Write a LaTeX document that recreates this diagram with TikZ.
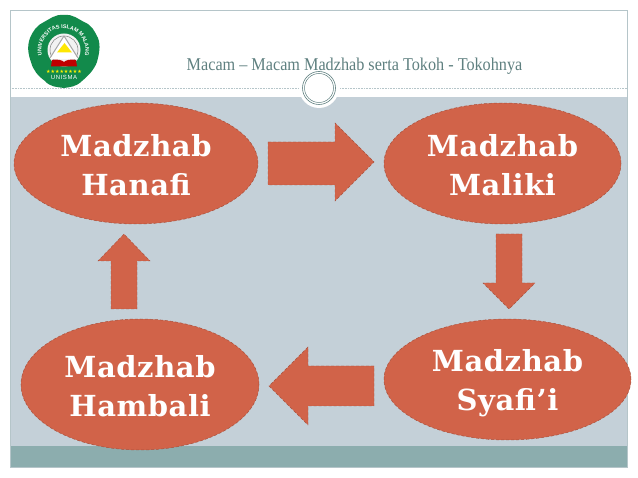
\documentclass[tikz,border=0pt]{standalone}
\usepackage{fontspec}
\usetikzlibrary{shapes.geometric,decorations.text}
\setmainfont{DejaVu Serif}
\newfontfamily\titlefont{Liberation Serif}
\newfontfamily\logofont{Liberation Sans}
\newfontfamily\starfont{DejaVu Sans}
\definecolor{slideblue}{HTML}{C4D0D8}
\definecolor{slideteal}{HTML}{8CADAE}
\definecolor{framegray}{HTML}{B5C5C9}
\definecolor{brick}{HTML}{D16349}
\definecolor{brickedge}{HTML}{A9503C}
\definecolor{titlecol}{HTML}{5F8080}
\definecolor{logogreen}{HTML}{128A4B}
\tikzset{
  oval/.style={ellipse,draw=brickedge,densely dashed,line width=.5pt,fill=brick,inner sep=0pt,
    text=white,align=center,font=\fontsize{29}{39}\selectfont\bfseries\addfontfeatures{LetterSpace=2}},
  blockarrow/.style={draw=brickedge,densely dashed,line width=.4pt,fill=brick},
  dotline/.style={draw=framegray,densely dotted,line width=.6pt}
}
\begin{document}
\begin{tikzpicture}[x=1pt,y=-1pt]
\useasboundingbox (0,0) rectangle (638,478);
\fill[white] (0,0) rectangle (638,478);
% slide
\fill[slideblue] (10,97) rectangle (627,446);
\fill[slideteal] (10,446) rectangle (627,467);
\draw[framegray,line width=.8pt] (10.5,10.5) rectangle (627,467);
\draw[dotline] (10,88.5) -- (300,88.5);
\draw[dotline] (340,88.5) -- (627,88.5);
\fill[white] (319,88) circle (20);
\draw[titlecol,line width=.6pt] (319,88) circle (16.5);
\draw[titlecol,line width=.5pt] (319,88) circle (14.5);
% title
\node[text=titlecol,font=\titlefont\fontsize{18}{22}\selectfont,inner sep=0pt] (title) at (354.5,66)
  {\addfontfeatures{FakeStretch=.9}Macam – Macam Madzhab serta Tokoh - Tokohnya};
% logo
\fill[logogreen] (64,15)
  .. controls (73,14) and (78,19) .. (84,22)
  .. controls (92,25) and (95,32) .. (98,38)
  .. controls (101,46) and (99,54) .. (97,62)
  .. controls (94,70) and (88,76) .. (82,81)
  .. controls (76,87) and (70,87) .. (64,88)
  .. controls (57,87) and (50,87) .. (45,81)
  .. controls (38,76) and (33,70) .. (31,62)
  .. controls (28,54) and (27,46) .. (30,38)
  .. controls (33,31) and (37,25) .. (44,22)
  .. controls (50,19) and (55,14) .. (64,15) -- cycle;
\fill[white!90!gray] (64,50) circle (16.5);
\draw[gray,line width=.5pt] (64,50) circle (14);
\fill[white] (64,36) -- (78,59) -- (50,59) -- cycle;
\draw[gray!70,line width=1pt] (64,36) -- (50,58);
\draw[gray!70,line width=1pt] (64,36) -- (78,58);
\fill[yellow!90!orange] (64.5,43) -- (72,52.5) -- (57,52.5) -- cycle;
\fill[red!75!black] (52,60) .. controls (58,59) and (62,60) .. (64,62) .. controls (66,60) and (70,59) .. (76,60)
  -- (77,66.5) -- (51,66.5) -- cycle;
\path[postaction={decorate,decoration={text along path,text align=center,
   text={|\logofont\bfseries\fontsize{5.4}{6}\selectfont\color{white}|UNIVERSITAS ISLAM MALANG}}}]
   (48.4,66.4) arc[start angle=227,end angle=-47,radius=22,y radius=-22];
\node[inner sep=0pt,text=yellow,font=\starfont\fontsize{5}{5}\selectfont] (stars) at (64,71.5) {★★★★★★★★};
\node[inner sep=0pt,text=white,font=\logofont\fontsize{6}{6}\selectfont] (unisma) at (64,77) {\addfontfeatures{LetterSpace=10}UNISMA};
% ovals
\node[oval,minimum width=244pt,minimum height=121pt] (hanafi) at (136,163.5) {\rule{0pt}{25pt}Madzhab\\Hanafi};
\node[oval,minimum width=237pt,minimum height=121pt] (maliki) at (502.5,163.5) {\rule{0pt}{25pt}Madzhab\\Maliki};
\node[oval,minimum width=247pt,minimum height=121pt] (syafii) at (507.5,379.5) {\rule{0pt}{30pt}Madzhab\\Syafi’i};
\node[oval,minimum width=238pt,minimum height=131pt] (hambali) at (140,384.5) {\rule{0pt}{26pt}Madzhab\\Hambali};
% arrows
\draw[blockarrow] (268,142) -- (335,142) -- (335,123) -- (374,162) -- (335,201) -- (335,185) -- (268,185) -- cycle;
\draw[blockarrow] (496,234) -- (522,234) -- (522,283) -- (535,283) -- (509,309) -- (483,283) -- (496,283) -- cycle;
\draw[blockarrow] (374,366) -- (308,366) -- (308,347) -- (269,386) -- (308,425) -- (308,406) -- (374,406) -- cycle;
\draw[blockarrow] (111,309) -- (137,309) -- (137,261) -- (150,261) -- (124,234) -- (98,261) -- (111,261) -- cycle;
\end{tikzpicture}
\end{document}
